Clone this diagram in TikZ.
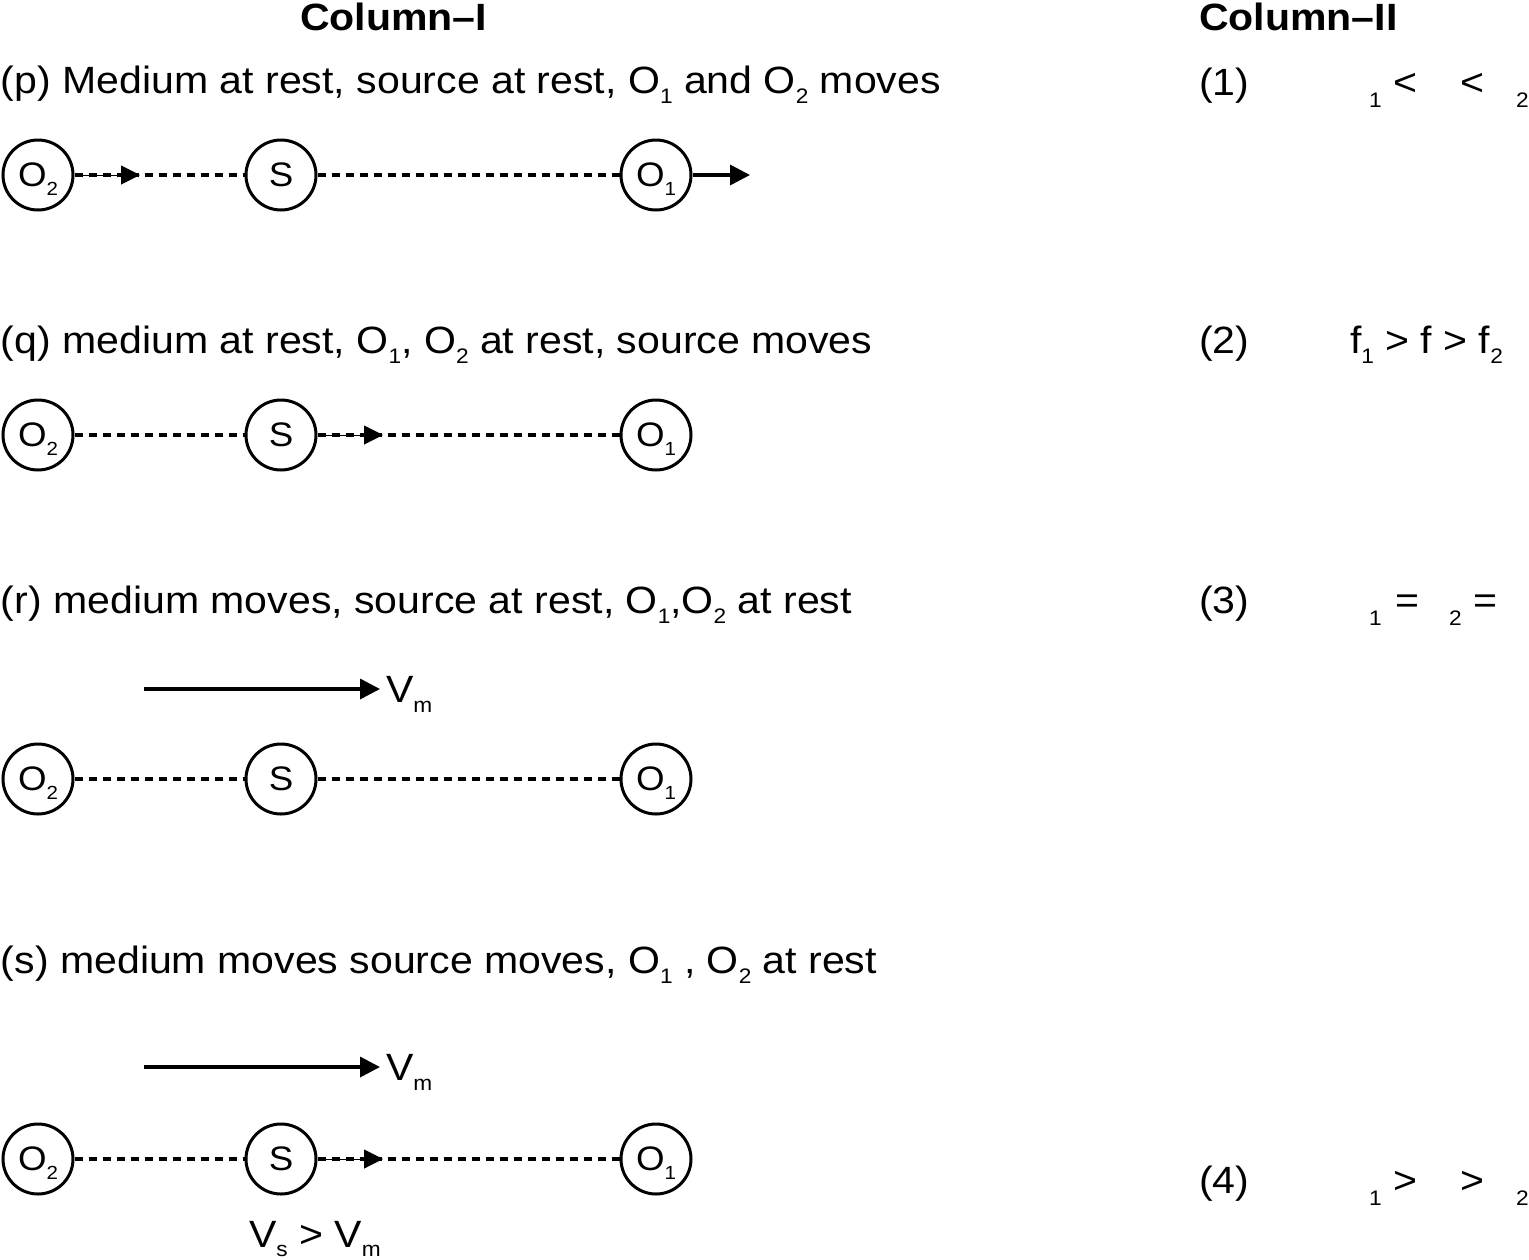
\documentclass[tikz,border=0pt]{standalone}
\usepackage{fontspec}
\setmainfont{Liberation Sans}[FakeStretch=1.08]
\usetikzlibrary{arrows.meta}
\newcommand{\sbs}[1]{\raisebox{-10pt}{\fontsize{21}{21}\selectfont #1}}
\newcommand{\csb}[1]{\raisebox{-9pt}[0pt][0pt]{\fontsize{19}{19}\selectfont #1}}
\begin{document}
\begin{tikzpicture}[x=1pt,y=-1pt,
  txt/.style={anchor=base west,inner sep=0pt,outer sep=0pt,font=\fontsize{38}{44}\selectfont},
  hdr/.style={anchor=base west,inner sep=0pt,font=\fontsize{38}{44}\selectfont\bfseries},
  small/.style={anchor=base west,inner sep=0pt,font=\fontsize{21}{21}\selectfont},
  circ/.style={circle,draw,line width=3pt,minimum size=70pt,inner sep=0pt,font=\fontsize{34}{36}\selectfont},
  dashline/.style={line width=3.5pt,dash pattern=on 8pt off 6pt},
  thinarrow/.style={line width=1pt,-{Triangle[length=19pt,width=19pt]}},
  thickarrow/.style={line width=3.5pt,-{Triangle[length=20pt,width=20pt]}}
]
\useasboundingbox (0,0) rectangle (1529,1259);
% headers
\node[hdr] (h1) at (300,30) {Column--I};
\node[hdr] (h2) at (1199,30) {Column--II};
% row texts
\node[txt] (tp) at (1,93) {(p) Medium at rest, source at rest, O\sbs{1} and O\sbs{2} moves};
\node[txt] (tq) at (1,353) {(q) medium at rest, O\sbs{1}, O\sbs{2} at rest, source moves};
\node[txt] (tr) at (1,613) {(r) medium moves, source at rest, O\sbs{1},O\sbs{2} at rest};
\node[txt] (ts) at (1,973) {(s) medium moves source moves, O\sbs{1} , O\sbs{2} at rest};
% column II
\node[txt] (c1) at (1199,95) {(1)};
\node[small] (c1a) at (1369,107) {1};
\node[txt] (c1b) at (1393,95) {<};
\node[txt] (c1d) at (1460,95) {<};
\node[small] (c1e) at (1516,107) {2};
\node[txt] (c2) at (1199,353) {(2)};
\node[txt] (c2a) at (1350,353) {f\sbs{1} > f > f\sbs{2}};
\node[txt] (c3) at (1199,613) {(3)};
\node[small] (c3a) at (1369,625) {1};
\node[txt] (c3b) at (1395,613) {=};
\node[small] (c3c) at (1449,625) {2};
\node[txt] (c3d) at (1473,613) {=};
\node[txt] (c4) at (1199,1193) {(4)};
\node[small] (c4a) at (1369,1205) {1};
\node[txt] (c4b) at (1393,1193) {>};
\node[txt] (c4d) at (1460,1193) {>};
\node[small] (c4e) at (1516,1205) {2};
% row p
\node[circ] (o2p) at (38,175) {O\csb{2}};
\node[circ] (sp) at (281,175) {S};
\node[circ] (o1p) at (656,175) {O\csb{1}};
\coordinate (ap) at (140,175);
\coordinate (bp) at (750,175);
\draw[dashline] (o2p) -- (sp);
\draw[dashline] (sp) -- (o1p);
\draw[thinarrow] (o2p) -- (ap);
\draw[thickarrow] (o1p) -- (bp);
% row q
\node[circ] (o2q) at (38,435) {O\csb{2}};
\node[circ] (sq) at (281,435) {S};
\node[circ] (o1q) at (656,435) {O\csb{1}};
\coordinate (aq) at (383,435);
\draw[dashline] (o2q) -- (sq);
\draw[dashline] (sq) -- (o1q);
\draw[thinarrow] (sq) -- (aq);
% row r
\coordinate (vr0) at (144,689);
\coordinate (vr1) at (380,689);
\draw[thickarrow] (vr0) -- (vr1);
\node[txt] (vrl) at (386,702) {V\sbs{m}};
\node[circ] (o2r) at (38,779) {O\csb{2}};
\node[circ] (sr) at (281,779) {S};
\node[circ] (o1r) at (656,779) {O\csb{1}};
\draw[dashline] (o2r) -- (sr);
\draw[dashline] (sr) -- (o1r);
% row s
\coordinate (vs0) at (144,1067);
\coordinate (vs1) at (380,1067);
\draw[thickarrow] (vs0) -- (vs1);
\node[txt] (vsl) at (386,1080) {V\sbs{m}};
\node[circ] (o2s) at (38,1159) {O\csb{2}};
\node[circ] (ss) at (281,1159) {S};
\node[circ] (o1s) at (656,1159) {O\csb{1}};
\coordinate (as) at (383,1159);
\draw[dashline] (o2s) -- (ss);
\draw[dashline] (ss) -- (o1s);
\draw[thinarrow] (ss) -- (as);
\node[txt] (vsvm) at (249,1247) {V\raisebox{-9pt}{\fontsize{21}{21}\selectfont s} > V\raisebox{-9pt}{\fontsize{21}{21}\selectfont m}};
\end{tikzpicture}
\end{document}
